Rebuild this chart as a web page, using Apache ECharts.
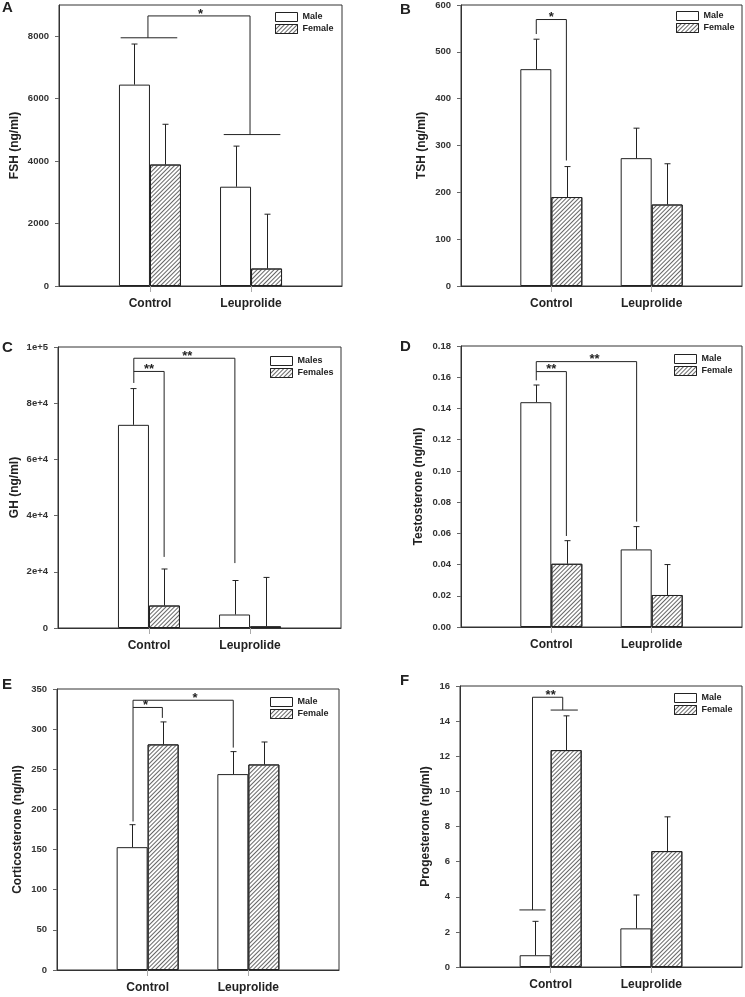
<!DOCTYPE html>
<html>
<head>
<meta charset="utf-8">
<title>Hormone levels</title>
<script src="https://cdn.jsdelivr.net/npm/echarts@6/dist/echarts.min.js"></script>
<style>
  html, body { margin: 0; padding: 0; background: #fff; }
  #chart { width: 745px; height: 997px; }
</style>
</head>
<body>
<div id="chart"></div>
<script>
// groups on the x axis (placed at x = 1 and x = 2)
var groups = ['Control', 'Leuprolide'];
var groupX = [1, 2];

// A - FSH (mean, and top of error bar)
var fshMale = [6450, 3180];
var fshMaleTop = [7750, 4480];
var fshFemale = [3890, 560];
var fshFemaleTop = [5180, 2300];
var fshTicks = [0, 2000, 4000, 6000, 8000];
var fshLines = [[0.71, 7950, 1.27, 7950], [0.98, 7950, 0.98, 8650], [0.98, 8650, 1.99, 8650],
                [1.99, 8650, 1.99, 4850], [1.73, 4850, 2.29, 4850]];
var fshStars = [[1.5, 8650, '*']];

// B - TSH
var tshMale = [463, 273];
var tshMaleTop = [527, 337];
var tshFemale = [190, 174];
var tshFemaleTop = [255, 261];
var tshTicks = [0, 100, 200, 300, 400, 500, 600];
var tshLines = [[0.85, 538, 0.85, 569], [0.85, 569, 1.15, 569], [1.15, 569, 1.15, 268]];
var tshStars = [[1.0, 569, '*']];

// C - GH
var ghMale = [72300, 4800];
var ghMaleTop = [85200, 16900];
var ghFemale = [8000, 600];
var ghFemaleTop = [21000, 18000];
var ghTicks = [0, 20000, 40000, 60000, 80000, 100000];
var ghLines = [[0.85, 87200, 0.85, 96000], [0.85, 96000, 1.85, 96000], [1.85, 96000, 1.85, 23100],
               [0.85, 91300, 1.15, 91300], [1.15, 91300, 1.15, 25300]];
var ghStars = [[1.0, 91300, '**'], [1.38, 96000, '**']];

// D - Testosterone
var testoMale = [0.144, 0.0497];
var testoMaleTop = [0.155, 0.0643];
var testoFemale = [0.0405, 0.0205];
var testoFemaleTop = [0.0553, 0.0400];
var testoTicks = [0, 0.02, 0.04, 0.06, 0.08, 0.10, 0.12, 0.14, 0.16, 0.18];
var testoLines = [[0.85, 0.158, 0.85, 0.170], [0.85, 0.170, 1.85, 0.170], [1.85, 0.170, 1.85, 0.0675],
                  [0.85, 0.1636, 1.15, 0.1636], [1.15, 0.1636, 1.15, 0.0583]];
var testoStars = [[1.0, 0.1636, '**'], [1.43, 0.170, '**']];

// E - Corticosterone
var corticoMale = [153, 244];
var corticoMaleTop = [181, 272];
var corticoFemale = [281, 256];
var corticoFemaleTop = [309, 284];
var corticoTicks = [0, 50, 100, 150, 200, 250, 300, 350];
var corticoLines = [[0.855, 185, 0.855, 336], [0.855, 336, 1.85, 336], [1.85, 336, 1.85, 277],
                    [0.855, 327, 1.146, 327], [1.146, 327, 1.146, 314]];
var corticoStars = [[0.98, 327, '*'], [1.47, 336, '*']];

// F - Progesterone
var progMale = [0.67, 2.2];
var progMaleTop = [2.6, 4.1];
var progFemale = [12.35, 6.6];
var progFemaleTop = [14.3, 8.55];
var progTicks = [0, 2, 4, 6, 8, 10, 12, 14, 16];
var progLines = [[0.69, 3.25, 0.95, 3.25], [0.82, 3.25, 0.82, 15.36], [0.82, 15.36, 1.12, 15.36],
                 [1.12, 15.36, 1.12, 14.63], [1.0, 14.63, 1.27, 14.63]];
var progStars = [[1.0, 15.36, '**']];

var FONT = 'Liberation Sans, Arial, sans-serif';
var INK = '#222';
var BAR_W = 31;

var panels = [
  { letter: 'A', yName: 'FSH (ng/ml)', names: ['Male', 'Female'],
    male: fshMale, maleTop: fshMaleTop, female: fshFemale, femaleTop: fshFemaleTop,
    max: 9000, ticks: fshTicks, fmt: function (v) { return String(v); },
    lines: fshLines, stars: fshStars,
    grid: { left: 59, top: 5, width: 283, height: 281 }, nameGap: 38,
    legend: [275, 12], letterPos: [2, 0] },
  { letter: 'B', yName: 'TSH (ng/ml)', names: ['Male', 'Female'],
    male: tshMale, maleTop: tshMaleTop, female: tshFemale, femaleTop: tshFemaleTop,
    max: 600, ticks: tshTicks, fmt: function (v) { return String(v); },
    lines: tshLines, stars: tshStars,
    grid: { left: 461, top: 5, width: 281, height: 281 }, nameGap: 33,
    legend: [676, 11], letterPos: [400, 2] },
  { letter: 'C', yName: 'GH (ng/ml)', names: ['Males', 'Females'],
    male: ghMale, maleTop: ghMaleTop, female: ghFemale, femaleTop: ghFemaleTop,
    max: 100000, ticks: ghTicks, fmt: function (v) { return v === 0 ? '0' : v.toExponential(); },
    lines: ghLines, stars: ghStars,
    grid: { left: 58, top: 347, width: 283, height: 281 }, nameGap: 37,
    legend: [270, 356], letterPos: [2, 340] },
  { letter: 'D', yName: 'Testosterone (ng/ml)', names: ['Male', 'Female'],
    male: testoMale, maleTop: testoMaleTop, female: testoFemale, femaleTop: testoFemaleTop,
    max: 0.18, ticks: testoTicks, fmt: function (v) { return v.toFixed(2); },
    lines: testoLines, stars: testoStars,
    grid: { left: 461, top: 346, width: 281, height: 281 }, nameGap: 36,
    legend: [674, 354], letterPos: [400, 339] },
  { letter: 'E', yName: 'Corticosterone (ng/ml)', names: ['Male', 'Female'],
    male: corticoMale, maleTop: corticoMaleTop, female: corticoFemale, femaleTop: corticoFemaleTop,
    max: 350, ticks: corticoTicks, fmt: function (v) { return String(v); },
    lines: corticoLines, stars: corticoStars,
    grid: { left: 57, top: 689, width: 282, height: 281 }, nameGap: 33,
    legend: [270, 697], letterPos: [2, 677] },
  { letter: 'F', yName: 'Progesterone (ng/ml)', names: ['Male', 'Female'],
    male: progMale, maleTop: progMaleTop, female: progFemale, femaleTop: progFemaleTop,
    max: 16, ticks: progTicks, fmt: function (v) { return String(v); },
    lines: progLines, stars: progStars,
    grid: { left: 460, top: 686, width: 282, height: 281 }, nameGap: 28,
    legend: [674, 693], letterPos: [400, 673] }
];

var hatch = {
  symbol: 'rect',
  symbolSize: 1,
  dashArrayX: [1, 0],
  dashArrayY: [1, 2],
  rotation: -Math.PI / 4,
  color: '#666'
};

function errorRender(params, api) {
  var x = api.value(0), side = api.value(3);
  var p0 = api.coord([x, api.value(1)]);
  var p1 = api.coord([x, api.value(2)]);
  var cx = Math.round(p0[0] + side * BAR_W / 2) + 0.5;
  var st = { stroke: INK, lineWidth: 1 };
  return { type: 'group', children: [
    { type: 'line', shape: { x1: cx, y1: p0[1], x2: cx, y2: p1[1] }, style: st },
    { type: 'line', shape: { x1: cx - 3, y1: p1[1], x2: cx + 3, y2: p1[1] }, style: st }
  ] };
}

function lineRender(params, api) {
  var a = api.coord([api.value(0), api.value(1)]);
  var b = api.coord([api.value(2), api.value(3)]);
  return { type: 'line', shape: { x1: a[0], y1: a[1], x2: b[0], y2: b[1] },
           style: { stroke: INK, lineWidth: 1 } };
}

var option = {
  backgroundColor: '#fff',
  animation: false,
  textStyle: { fontFamily: FONT },
  title: [], legend: [], grid: [], xAxis: [], yAxis: [], series: []
};

panels.forEach(function (p, i) {
  option.title.push({
    text: p.letter, left: p.letterPos[0], top: p.letterPos[1], padding: 0,
    textStyle: { fontSize: 15, fontWeight: 'bold', color: INK, fontFamily: FONT }
  });
  option.grid.push({
    left: p.grid.left, top: p.grid.top, width: p.grid.width, height: p.grid.height,
    show: true, borderColor: '#333', borderWidth: 1, backgroundColor: 'transparent'
  });
  option.legend.push({
    orient: 'vertical', left: p.legend[0], top: p.legend[1], padding: 0,
    icon: 'rect', itemWidth: 22, itemHeight: 9, itemGap: 2, selectedMode: false,
    itemStyle: { borderWidth: 1, borderColor: INK },
    data: p.names,
    textStyle: { fontSize: 9, fontWeight: 'bold', color: INK, fontFamily: FONT }
  });
  option.xAxis.push({
    type: 'value', gridIndex: i, min: 0.1, max: 2.9,
    splitLine: { show: false },
    axisLine: { show: true, lineStyle: { color: '#333' } },
    axisTick: { show: true, customValues: groupX, length: 6, lineStyle: { color: '#aaa' } },
    axisLabel: {
      customValues: groupX, margin: 12, fontSize: 12, fontWeight: 'bold', color: INK,
      formatter: function (v) { return groups[Math.round(v) - 1] || ''; }
    }
  });
  option.yAxis.push({
    type: 'value', gridIndex: i, min: 0, max: p.max,
    name: p.yName, nameLocation: 'middle', nameGap: p.nameGap,
    nameTextStyle: { fontSize: 12, fontWeight: 'bold', color: INK, fontFamily: FONT },
    splitLine: { show: false },
    axisLine: { show: true, lineStyle: { color: '#333' } },
    axisTick: { show: true, customValues: p.ticks, length: 4, lineStyle: { color: '#666' } },
    axisLabel: { customValues: p.ticks, margin: 10, fontSize: 9.5, fontWeight: 'bold', color: '#333',
                 formatter: p.fmt }
  });

  var barBase = {
    type: 'bar', xAxisIndex: i, yAxisIndex: i, barWidth: BAR_W, barGap: '0%',
    silent: true, emphasis: { disabled: true }
  };
  option.series.push(Object.assign({}, barBase, {
    name: p.names[0],
    data: groupX.map(function (x, j) { return [x, p.male[j]]; }),
    itemStyle: { color: '#fff', borderColor: INK, borderWidth: 1 }
  }));
  option.series.push(Object.assign({}, barBase, {
    name: p.names[1],
    data: groupX.map(function (x, j) { return [x, p.female[j]]; }),
    itemStyle: { color: '#fff', borderColor: INK, borderWidth: 1, decal: hatch }
  }));

  var err = [];
  groupX.forEach(function (x, j) {
    err.push([x, p.male[j], p.maleTop[j], -1]);
    err.push([x, p.female[j], p.femaleTop[j], 1]);
  });
  option.series.push({
    type: 'custom', xAxisIndex: i, yAxisIndex: i, silent: true,
    renderItem: errorRender, data: err, z: 3
  });
  option.series.push({
    type: 'custom', xAxisIndex: i, yAxisIndex: i, silent: true,
    renderItem: lineRender, data: p.lines, z: 3
  });
  var stars = p.stars;
  option.series.push({
    type: 'custom', xAxisIndex: i, yAxisIndex: i, silent: true, z: 4,
    data: stars.map(function (s) { return [s[0], s[1]]; }),
    renderItem: function (params, api) {
      var pt = api.coord([api.value(0), api.value(1)]);
      return { type: 'text', style: {
        text: stars[params.dataIndex][2], x: pt[0], y: pt[1] - 2,
        align: 'center', verticalAlign: 'middle',
        fontSize: 13, fontWeight: 'bold', fontFamily: FONT, fill: INK
      } };
    }
  });
});

var chart = echarts.init(document.getElementById('chart'));
chart.setOption(option);
</script>
</body>
</html>
